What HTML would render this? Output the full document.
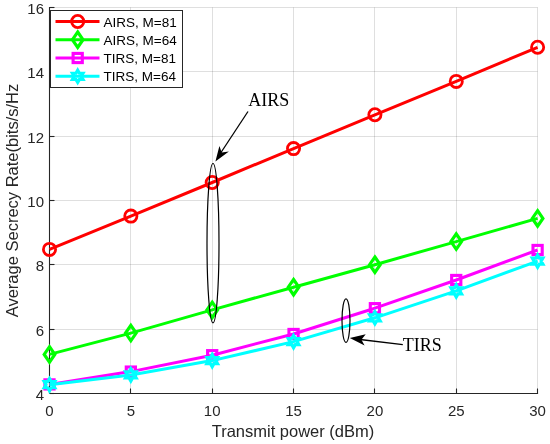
<!DOCTYPE html>
<html><head><meta charset="utf-8"><title>Average Secrecy Rate</title>
<style>
html,body{margin:0;padding:0;background:#fff;}
body{width:550px;height:444px;overflow:hidden;}
svg{display:block;}
.tk{font-family:"Liberation Sans",Arial,sans-serif;font-size:15px;fill:#262626;}
.lb{font-family:"Liberation Sans",Arial,sans-serif;font-size:16.5px;fill:#262626;}
.lg{font-family:"Liberation Sans",Arial,sans-serif;font-size:13.5px;fill:#000;}
.an{font-family:"Liberation Serif","Times New Roman",serif;font-size:18px;fill:#000;}
</style></head><body>
<svg width="550" height="444" viewBox="0 0 550 444">
<rect width="550" height="444" fill="#fff"/>

<g stroke="#262626" stroke-opacity="0.15" stroke-width="1"><line x1="130.5" y1="7.4" x2="130.5" y2="393.4"/><line x1="212.5" y1="7.4" x2="212.5" y2="393.4"/><line x1="293.5" y1="7.4" x2="293.5" y2="393.4"/><line x1="374.5" y1="7.4" x2="374.5" y2="393.4"/><line x1="456.5" y1="7.4" x2="456.5" y2="393.4"/><line x1="537.5" y1="7.4" x2="537.5" y2="393.4"/><line x1="49.5" y1="329.5" x2="537.6" y2="329.5"/><line x1="49.5" y1="264.5" x2="537.6" y2="264.5"/><line x1="49.5" y1="200.5" x2="537.6" y2="200.5"/><line x1="49.5" y1="136.5" x2="537.6" y2="136.5"/><line x1="49.5" y1="71.5" x2="537.6" y2="71.5"/><line x1="49.5" y1="7.5" x2="537.6" y2="7.5"/></g>
<g stroke="#262626" stroke-width="1.1"><line x1="49.5" y1="6.9" x2="49.5" y2="393.9"/><line x1="49.0" y1="393.5" x2="538.1" y2="393.5"/><line x1="49.5" y1="393.5" x2="49.5" y2="388.5"/><line x1="130.5" y1="393.5" x2="130.5" y2="388.5"/><line x1="212.5" y1="393.5" x2="212.5" y2="388.5"/><line x1="293.5" y1="393.5" x2="293.5" y2="388.5"/><line x1="374.5" y1="393.5" x2="374.5" y2="388.5"/><line x1="456.5" y1="393.5" x2="456.5" y2="388.5"/><line x1="537.5" y1="393.5" x2="537.5" y2="388.5"/><line x1="49.5" y1="393.5" x2="54.5" y2="393.5"/><line x1="49.5" y1="329.5" x2="54.5" y2="329.5"/><line x1="49.5" y1="264.5" x2="54.5" y2="264.5"/><line x1="49.5" y1="200.5" x2="54.5" y2="200.5"/><line x1="49.5" y1="136.5" x2="54.5" y2="136.5"/><line x1="49.5" y1="71.5" x2="54.5" y2="71.5"/><line x1="49.5" y1="7.5" x2="54.5" y2="7.5"/></g>
<polyline points="49.5,249.4 130.85,216.1 212.2,182.5 293.55,148.6 374.9,114.8 456.25,81.4 537.6,47.3" fill="none" stroke="#ff0000" stroke-width="3.0" stroke-linejoin="round"/><circle cx="49.5" cy="249.4" r="6.1" fill="none" stroke="#ff0000" stroke-width="2.8"/><circle cx="130.85" cy="216.1" r="6.1" fill="none" stroke="#ff0000" stroke-width="2.8"/><circle cx="212.2" cy="182.5" r="6.1" fill="none" stroke="#ff0000" stroke-width="2.8"/><circle cx="293.55" cy="148.6" r="6.1" fill="none" stroke="#ff0000" stroke-width="2.8"/><circle cx="374.9" cy="114.8" r="6.1" fill="none" stroke="#ff0000" stroke-width="2.8"/><circle cx="456.25" cy="81.4" r="6.1" fill="none" stroke="#ff0000" stroke-width="2.8"/><circle cx="537.6" cy="47.3" r="6.1" fill="none" stroke="#ff0000" stroke-width="2.8"/>
<polyline points="49.5,354.4 130.85,333.1 212.2,309.9 293.55,287.2 374.9,264.7 456.25,241.6 537.6,218.4" fill="none" stroke="#00ff00" stroke-width="3.0" stroke-linejoin="round"/><path d="M49.5 346.7L54.8 354.4L49.5 362.1L44.2 354.4Z" fill="none" stroke="#00ff00" stroke-width="3.2" stroke-linejoin="miter"/><path d="M130.85 325.4L136.15 333.1L130.85 340.8L125.55 333.1Z" fill="none" stroke="#00ff00" stroke-width="3.2" stroke-linejoin="miter"/><path d="M212.2 302.2L217.5 309.9L212.2 317.6L206.9 309.9Z" fill="none" stroke="#00ff00" stroke-width="3.2" stroke-linejoin="miter"/><path d="M293.55 279.5L298.85 287.2L293.55 294.9L288.25 287.2Z" fill="none" stroke="#00ff00" stroke-width="3.2" stroke-linejoin="miter"/><path d="M374.9 257L380.2 264.7L374.9 272.4L369.6 264.7Z" fill="none" stroke="#00ff00" stroke-width="3.2" stroke-linejoin="miter"/><path d="M456.25 233.9L461.55 241.6L456.25 249.3L450.95 241.6Z" fill="none" stroke="#00ff00" stroke-width="3.2" stroke-linejoin="miter"/><path d="M537.6 210.7L542.9 218.4L537.6 226.1L532.3 218.4Z" fill="none" stroke="#00ff00" stroke-width="3.2" stroke-linejoin="miter"/>
<polyline points="49.5,384.4 130.85,371.6 212.2,355.2 293.55,334 374.9,308.2 456.25,280 537.6,250" fill="none" stroke="#ff00ff" stroke-width="3.0" stroke-linejoin="round"/><rect x="44.9" y="379.8" width="9.2" height="9.2" fill="none" stroke="#ff00ff" stroke-width="3.1"/><rect x="126.25" y="367" width="9.2" height="9.2" fill="none" stroke="#ff00ff" stroke-width="3.1"/><rect x="207.6" y="350.6" width="9.2" height="9.2" fill="none" stroke="#ff00ff" stroke-width="3.1"/><rect x="288.95" y="329.4" width="9.2" height="9.2" fill="none" stroke="#ff00ff" stroke-width="3.1"/><rect x="370.3" y="303.6" width="9.2" height="9.2" fill="none" stroke="#ff00ff" stroke-width="3.1"/><rect x="451.65" y="275.4" width="9.2" height="9.2" fill="none" stroke="#ff00ff" stroke-width="3.1"/><rect x="533" y="245.4" width="9.2" height="9.2" fill="none" stroke="#ff00ff" stroke-width="3.1"/>
<polyline points="49.5,384.7 130.85,374.9 212.2,360.6 293.55,341.6 374.9,317.8 456.25,290.9 537.6,261.1" fill="none" stroke="#00ffff" stroke-width="3.0" stroke-linejoin="round"/><path d="M49.5 378.6L51.26 381.65L54.78 381.65L53.02 384.7L54.78 387.75L51.26 387.75L49.5 390.8L47.74 387.75L44.22 387.75L45.98 384.7L44.22 381.65L47.74 381.65Z" fill="none" stroke="#00ffff" stroke-width="3.2" stroke-linejoin="miter"/><path d="M130.85 368.8L132.61 371.85L136.13 371.85L134.37 374.9L136.13 377.95L132.61 377.95L130.85 381L129.09 377.95L125.57 377.95L127.33 374.9L125.57 371.85L129.09 371.85Z" fill="none" stroke="#00ffff" stroke-width="3.2" stroke-linejoin="miter"/><path d="M212.2 354.5L213.96 357.55L217.48 357.55L215.72 360.6L217.48 363.65L213.96 363.65L212.2 366.7L210.44 363.65L206.92 363.65L208.68 360.6L206.92 357.55L210.44 357.55Z" fill="none" stroke="#00ffff" stroke-width="3.2" stroke-linejoin="miter"/><path d="M293.55 335.5L295.31 338.55L298.83 338.55L297.07 341.6L298.83 344.65L295.31 344.65L293.55 347.7L291.79 344.65L288.27 344.65L290.03 341.6L288.27 338.55L291.79 338.55Z" fill="none" stroke="#00ffff" stroke-width="3.2" stroke-linejoin="miter"/><path d="M374.9 311.7L376.66 314.75L380.18 314.75L378.42 317.8L380.18 320.85L376.66 320.85L374.9 323.9L373.14 320.85L369.62 320.85L371.38 317.8L369.62 314.75L373.14 314.75Z" fill="none" stroke="#00ffff" stroke-width="3.2" stroke-linejoin="miter"/><path d="M456.25 284.8L458.01 287.85L461.53 287.85L459.77 290.9L461.53 293.95L458.01 293.95L456.25 297L454.49 293.95L450.97 293.95L452.73 290.9L450.97 287.85L454.49 287.85Z" fill="none" stroke="#00ffff" stroke-width="3.2" stroke-linejoin="miter"/><path d="M537.6 255L539.36 258.05L542.88 258.05L541.12 261.1L542.88 264.15L539.36 264.15L537.6 267.2L535.84 264.15L532.32 264.15L534.08 261.1L532.32 258.05L535.84 258.05Z" fill="none" stroke="#00ffff" stroke-width="3.2" stroke-linejoin="miter"/>
<g class="tk"><text x="49.5" y="415.7" text-anchor="middle">0</text><text x="130.85" y="415.7" text-anchor="middle">5</text><text x="212.2" y="415.7" text-anchor="middle">10</text><text x="293.55" y="415.7" text-anchor="middle">15</text><text x="374.9" y="415.7" text-anchor="middle">20</text><text x="456.25" y="415.7" text-anchor="middle">25</text><text x="537.6" y="415.7" text-anchor="middle">30</text><text x="44" y="399.9" text-anchor="end">4</text><text x="44" y="335.57" text-anchor="end">6</text><text x="44" y="271.23" text-anchor="end">8</text><text x="44" y="206.9" text-anchor="end">10</text><text x="44" y="142.57" text-anchor="end">12</text><text x="44" y="78.23" text-anchor="end">14</text><text x="44" y="13.9" text-anchor="end">16</text></g>
<text class="lb" x="293" y="437" text-anchor="middle">Transmit power (dBm)</text>
<text class="lb" transform="translate(17.5,200.5) rotate(-90)" text-anchor="middle">Average Secrecy Rate(bits/s/Hz</text>
<ellipse cx="213" cy="243.2" rx="6" ry="79.7" fill="none" stroke="#000" stroke-width="1.2"/>
<ellipse cx="346" cy="320.6" rx="4" ry="21.8" fill="none" stroke="#000" stroke-width="1.2"/>
<line x1="248" y1="111.5" x2="220" y2="154" stroke="#000" stroke-width="1.3"/>
<path d="M215.4 161.5L219.4 146L221.7 152.5L228.9 151.6Z" fill="#000"/>
<line x1="402.8" y1="344.6" x2="360" y2="339.5" stroke="#000" stroke-width="1.3"/>
<path d="M349.8 337.9L365.7 334.3L361.4 339.7L364.6 345.5Z" fill="#000"/>
<text class="an" x="248.3" y="106.3">AIRS</text>
<text class="an" x="402.7" y="350.7">TIRS</text>
<rect x="50.5" y="10.5" width="132" height="77" fill="#fff" stroke="#262626" stroke-width="1"/><line x1="55.5" y1="21.5" x2="99.5" y2="21.5" stroke="#ff0000" stroke-width="3.0"/><circle cx="77.7" cy="21.5" r="6.1" fill="none" stroke="#ff0000" stroke-width="2.8"/><text class="lg" x="103.5" y="26.5">AIRS, M=81</text><line x1="55.5" y1="39.7" x2="99.5" y2="39.7" stroke="#00ff00" stroke-width="3.0"/><path d="M77.7 32L83 39.7L77.7 47.4L72.4 39.7Z" fill="none" stroke="#00ff00" stroke-width="3.2" stroke-linejoin="miter"/><text class="lg" x="103.5" y="44.7">AIRS, M=64</text><line x1="55.5" y1="58" x2="99.5" y2="58" stroke="#ff00ff" stroke-width="3.0"/><rect x="73.1" y="53.4" width="9.2" height="9.2" fill="none" stroke="#ff00ff" stroke-width="3.1"/><text class="lg" x="103.5" y="63">TIRS, M=81</text><line x1="55.5" y1="76.3" x2="99.5" y2="76.3" stroke="#00ffff" stroke-width="3.0"/><path d="M77.7 70.2L79.46 73.25L82.98 73.25L81.22 76.3L82.98 79.35L79.46 79.35L77.7 82.4L75.94 79.35L72.42 79.35L74.18 76.3L72.42 73.25L75.94 73.25Z" fill="none" stroke="#00ffff" stroke-width="3.2" stroke-linejoin="miter"/><text class="lg" x="103.5" y="81.3">TIRS, M=64</text>
</svg>
</body></html>
